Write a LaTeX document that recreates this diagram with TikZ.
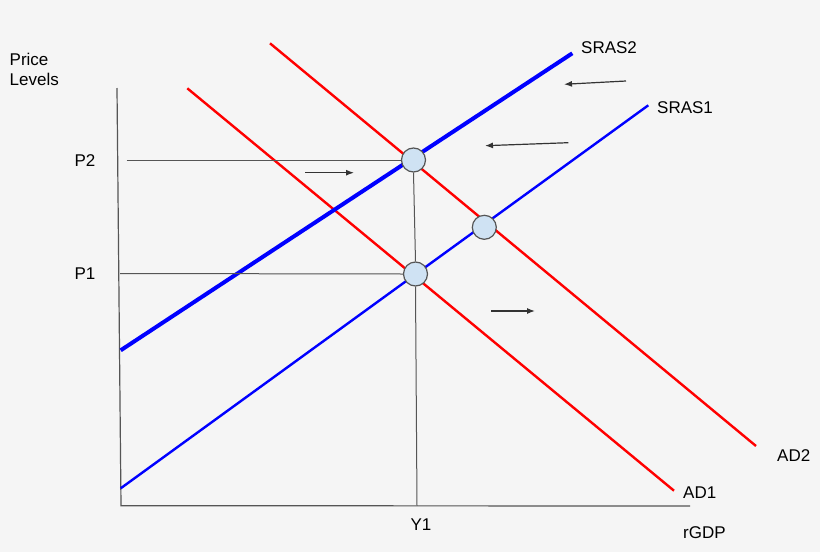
\documentclass[tikz,border=0pt]{standalone}
\usepackage{fontspec}
\setmainfont{Liberation Sans}
\usetikzlibrary{positioning, arrows.meta}
\definecolor{paper}{HTML}{F5F5F5}
\definecolor{eqfill}{HTML}{CFE2F3}
\definecolor{axisgray}{HTML}{555555}

\begin{document}
\begin{tikzpicture}[x=1pt, y=-1pt,
    lbl/.style={font=\fontsize{17}{20}\selectfont, inner sep=0pt},
    axisline/.style={draw=axisgray, line width=1.2pt},
    guide/.style={draw=axisgray, line width=1pt},
    shiftarrow/.style={draw=black!80, line width=1.2pt, -{Latex[length=8pt,width=6pt]}},
    sras/.style={draw=blue, line width=2.4pt},
    ad/.style={draw=red, line width=2.4pt},
    eqpoint/.style={circle, draw=axisgray, fill=eqfill, line width=1.2pt,
        minimum size=24pt, inner sep=0pt}]
\fill[paper] (0,0) rectangle (820,552);
\useasboundingbox (0,0) rectangle (820,552);

% axes
\coordinate (ytop) at (117,88);
\coordinate (origin) at (121,505.7);
\coordinate (xend) at (690,506);
\draw[axisline] (ytop) -- (origin) -- (xend);

% curves
\coordinate (s2a) at (120.7,350.3);
\coordinate (s2b) at (572.3,53.3);
\coordinate (s1a) at (120.7,488.3);
\coordinate (s1b) at (648.3,105.3);
\coordinate (d2a) at (270,43.3);
\coordinate (d2b) at (756,446);
\coordinate (d1a) at (187.3,88.3);
\coordinate (d1b) at (674,490.7);
\draw[ad] (d1a) -- (d1b);
\draw[ad] (d2a) -- (d2b);
\draw[sras] (s1a) -- (s1b);
\draw[sras, line width=4pt] (s2a) -- (s2b);

% equilibria
\node[eqpoint] (e2) at (413.5,160) {};
\node[eqpoint] (e1) at (415.5,274) {};
\node[eqpoint] (e3) at (484.3,227.3) {};

% guide lines
\coordinate (p2start) at (126.7,160);
\coordinate (p1start) at (120,273.5);
\coordinate (yfoot) at (417,505.7);
\draw[guide] (p2start) -- (e2.west);
\draw[guide] (p1start) -- (e1.west);
\draw[guide] (e2.south) -- (e1.north);
\draw[guide] (e1.south) -- (yfoot);

% shift arrows
\coordinate (a1s) at (305,172.7);
\coordinate (a1e) at (354,172.7);
\coordinate (a2s) at (491,311);
\coordinate (a2e) at (535,311);
\coordinate (a3s) at (626,81);
\coordinate (a3e) at (564,84.3);
\coordinate (a4s) at (568.3,142.7);
\coordinate (a4e) at (485,145.7);
\draw[shiftarrow] (a1s) -- (a1e);
\draw[shiftarrow] (a2s) -- (a2e);
\draw[shiftarrow] (a3s) -- (a3e);
\draw[shiftarrow] (a4s) -- (a4e);

% labels
\node[lbl, anchor=north west, align=left] (plevel) at (9.5,52.5) {Price\\Levels};
\node[lbl] (p2) at (85,160.5) {P2};
\node[lbl] (p1) at (85,274) {P1};
\node[lbl] (y1) at (421,524.5) {Y1};
\node[lbl, anchor=west] (rgdp) at (683,533) {rGDP};
\node[lbl, anchor=west] (sras2) at (581,47.5) {SRAS2};
\node[lbl, anchor=west] (sras1) at (657,107.5) {SRAS1};
\node[lbl, anchor=west] (ad2) at (777,456) {AD2};
\node[lbl, anchor=west] (ad1) at (683,492.3) {AD1};
\end{tikzpicture}
\end{document}
